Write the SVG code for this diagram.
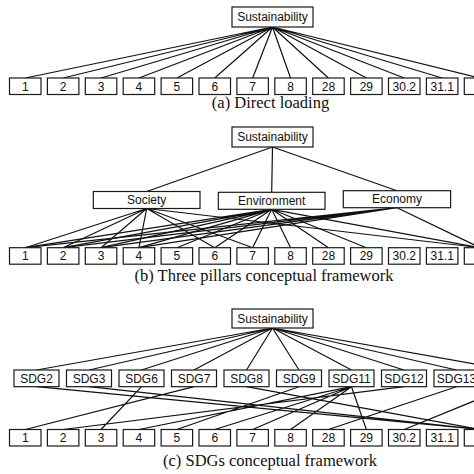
<svg xmlns="http://www.w3.org/2000/svg" width="474" height="474" viewBox="0 0 474 474">
<style>
.bx{fill:#fff;stroke:#1a1a1a;stroke-width:1.2}
.t{font-family:"Liberation Sans",Arial,sans-serif;font-size:12px;fill:#111;text-anchor:middle}
.cap{font-family:"Liberation Serif","Times New Roman",serif;font-size:16.5px;fill:#111;text-anchor:middle}
.e{stroke:#111;stroke-width:1.2;fill:none}
</style>
<rect width="474" height="474" fill="#fff"/>
<g id="connectors" class="e">
<path d="M272.5 27L25.25 78M272.5 27L63.15 78M272.5 27L101.05 78M272.5 27L138.95 78M272.5 27L176.85 78M272.5 27L214.75 78M272.5 27L252.65 78M272.5 27L290.55 78M272.5 27L328.45 78M272.5 27L366.35 78M272.5 27L404.25 78M272.5 27L442.15 78M272.5 27L480.05 78"/>
<path d="M272.5 147L146.7 191.5M272.5 147L271.7 192.3M272.5 147L397 190.7"/>
<path d="M146.7 208.5L25.25 247.7M146.7 208.5L63.15 247.7M146.7 208.5L101.05 247.7M146.7 208.5L138.95 247.7M146.7 208.5L214.75 247.7M146.7 208.5L252.65 247.7M146.7 208.5L480.05 247.7"/>
<path d="M271.7 209.3L25.25 247.7M271.7 209.3L63.15 247.7M271.7 209.3L101.05 247.7M271.7 209.3L138.95 247.7M271.7 209.3L176.85 247.7M271.7 209.3L214.75 247.7M271.7 209.3L252.65 247.7M271.7 209.3L290.55 247.7M271.7 209.3L328.45 247.7M271.7 209.3L366.35 247.7M271.7 209.3L480.05 247.7"/>
<path d="M397 207.7L25.25 247.7M397 207.7L63.15 247.7M397 207.7L101.05 247.7M397 207.7L138.95 247.7M397 207.7L480.05 247.7"/>
<path d="M272.5 328L36.5 370M272.5 328L89 370M272.5 328L141.5 370M272.5 328L194 370M272.5 328L246.5 370M272.5 328L299 370M272.5 328L351.5 370M272.5 328L404 370M272.5 328L456.5 370M272.5 328L509 370"/>
<path d="M36.5 386.7L480.05 429.5M89 386.7L480.05 429.5M141.5 386.7L101.05 429.5M194 386.7L25.25 429.5M246.5 386.7L480.05 429.5M299 386.7L176.85 429.5M351.5 386.7L138.95 429.5M351.5 386.7L214.75 429.5M351.5 386.7L252.65 429.5M351.5 386.7L290.55 429.5M351.5 386.7L366.35 429.5M404 386.7L63.15 429.5M456.5 386.7L328.45 429.5M509 386.7L404.25 429.5"/>
</g>
<g id="a-root"><rect class="bx" x="232" y="7" width="81" height="20"/><text class="t" x="272.5" y="21.3">Sustainability</text></g>
<g id="a-1"><rect class="bx" x="9.5" y="78" width="31.5" height="16.5"/><text class="t" x="25.25" y="90.5">1</text></g>
<g id="a-2"><rect class="bx" x="47.4" y="78" width="31.5" height="16.5"/><text class="t" x="63.15" y="90.5">2</text></g>
<g id="a-3"><rect class="bx" x="85.3" y="78" width="31.5" height="16.5"/><text class="t" x="101.05" y="90.5">3</text></g>
<g id="a-4"><rect class="bx" x="123.2" y="78" width="31.5" height="16.5"/><text class="t" x="138.95" y="90.5">4</text></g>
<g id="a-5"><rect class="bx" x="161.1" y="78" width="31.5" height="16.5"/><text class="t" x="176.85" y="90.5">5</text></g>
<g id="a-6"><rect class="bx" x="199" y="78" width="31.5" height="16.5"/><text class="t" x="214.75" y="90.5">6</text></g>
<g id="a-7"><rect class="bx" x="236.9" y="78" width="31.5" height="16.5"/><text class="t" x="252.65" y="90.5">7</text></g>
<g id="a-8"><rect class="bx" x="274.8" y="78" width="31.5" height="16.5"/><text class="t" x="290.55" y="90.5">8</text></g>
<g id="a-28"><rect class="bx" x="312.7" y="78" width="31.5" height="16.5"/><text class="t" x="328.45" y="90.5">28</text></g>
<g id="a-29"><rect class="bx" x="350.6" y="78" width="31.5" height="16.5"/><text class="t" x="366.35" y="90.5">29</text></g>
<g id="a-30_2"><rect class="bx" x="388.5" y="78" width="31.5" height="16.5"/><text class="t" x="404.25" y="90.5">30.2</text></g>
<g id="a-31_1"><rect class="bx" x="426.4" y="78" width="31.5" height="16.5"/><text class="t" x="442.15" y="90.5">31.1</text></g>
<g id="a-last"><rect class="bx" x="464.3" y="78" width="31.5" height="16.5"/></g>
<text class="cap" x="270.5" y="108">(a) Direct loading</text>
<g id="b-root"><rect class="bx" x="232" y="127" width="81" height="20"/><text class="t" x="272.5" y="141.3">Sustainability</text></g>
<g id="b-society"><rect class="bx" x="93.3" y="191.5" width="106.7" height="17"/><text class="t" x="146.7" y="204">Society</text></g>
<g id="b-environment"><rect class="bx" x="218.3" y="192.3" width="106.7" height="17"/><text class="t" x="271.7" y="204.8">Environment</text></g>
<g id="b-economy"><rect class="bx" x="343.3" y="190.7" width="107.3" height="17"/><text class="t" x="397" y="203.2">Economy</text></g>
<g id="b-1"><rect class="bx" x="9.5" y="247.7" width="31.5" height="16.5"/><text class="t" x="25.25" y="260.2">1</text></g>
<g id="b-2"><rect class="bx" x="47.4" y="247.7" width="31.5" height="16.5"/><text class="t" x="63.15" y="260.2">2</text></g>
<g id="b-3"><rect class="bx" x="85.3" y="247.7" width="31.5" height="16.5"/><text class="t" x="101.05" y="260.2">3</text></g>
<g id="b-4"><rect class="bx" x="123.2" y="247.7" width="31.5" height="16.5"/><text class="t" x="138.95" y="260.2">4</text></g>
<g id="b-5"><rect class="bx" x="161.1" y="247.7" width="31.5" height="16.5"/><text class="t" x="176.85" y="260.2">5</text></g>
<g id="b-6"><rect class="bx" x="199" y="247.7" width="31.5" height="16.5"/><text class="t" x="214.75" y="260.2">6</text></g>
<g id="b-7"><rect class="bx" x="236.9" y="247.7" width="31.5" height="16.5"/><text class="t" x="252.65" y="260.2">7</text></g>
<g id="b-8"><rect class="bx" x="274.8" y="247.7" width="31.5" height="16.5"/><text class="t" x="290.55" y="260.2">8</text></g>
<g id="b-28"><rect class="bx" x="312.7" y="247.7" width="31.5" height="16.5"/><text class="t" x="328.45" y="260.2">28</text></g>
<g id="b-29"><rect class="bx" x="350.6" y="247.7" width="31.5" height="16.5"/><text class="t" x="366.35" y="260.2">29</text></g>
<g id="b-30_2"><rect class="bx" x="388.5" y="247.7" width="31.5" height="16.5"/><text class="t" x="404.25" y="260.2">30.2</text></g>
<g id="b-31_1"><rect class="bx" x="426.4" y="247.7" width="31.5" height="16.5"/><text class="t" x="442.15" y="260.2">31.1</text></g>
<g id="b-last"><rect class="bx" x="464.3" y="247.7" width="31.5" height="16.5"/></g>
<text class="cap" x="264" y="280.5">(b) Three pillars conceptual framework</text>
<g id="c-root"><rect class="bx" x="232" y="309" width="81" height="19"/><text class="t" x="272.5" y="322.8">Sustainability</text></g>
<g id="c-sdg2"><rect class="bx" x="14" y="370" width="45" height="16.7"/><text class="t" x="36.5" y="382.6">SDG2</text></g>
<g id="c-sdg3"><rect class="bx" x="66.5" y="370" width="45" height="16.7"/><text class="t" x="89" y="382.6">SDG3</text></g>
<g id="c-sdg6"><rect class="bx" x="119" y="370" width="45" height="16.7"/><text class="t" x="141.5" y="382.6">SDG6</text></g>
<g id="c-sdg7"><rect class="bx" x="171.5" y="370" width="45" height="16.7"/><text class="t" x="194" y="382.6">SDG7</text></g>
<g id="c-sdg8"><rect class="bx" x="224" y="370" width="45" height="16.7"/><text class="t" x="246.5" y="382.6">SDG8</text></g>
<g id="c-sdg9"><rect class="bx" x="276.5" y="370" width="45" height="16.7"/><text class="t" x="299" y="382.6">SDG9</text></g>
<g id="c-sdg11"><rect class="bx" x="329" y="370" width="45" height="16.7"/><text class="t" x="351.5" y="382.6">SDG11</text></g>
<g id="c-sdg12"><rect class="bx" x="381.5" y="370" width="45" height="16.7"/><text class="t" x="404" y="382.6">SDG12</text></g>
<g id="c-sdg13"><rect class="bx" x="434" y="370" width="45" height="16.7"/><text class="t" x="456.5" y="382.6">SDG13</text></g>
<g id="c-1"><rect class="bx" x="9.5" y="429.5" width="31.5" height="16.5"/><text class="t" x="25.25" y="442">1</text></g>
<g id="c-2"><rect class="bx" x="47.4" y="429.5" width="31.5" height="16.5"/><text class="t" x="63.15" y="442">2</text></g>
<g id="c-3"><rect class="bx" x="85.3" y="429.5" width="31.5" height="16.5"/><text class="t" x="101.05" y="442">3</text></g>
<g id="c-4"><rect class="bx" x="123.2" y="429.5" width="31.5" height="16.5"/><text class="t" x="138.95" y="442">4</text></g>
<g id="c-5"><rect class="bx" x="161.1" y="429.5" width="31.5" height="16.5"/><text class="t" x="176.85" y="442">5</text></g>
<g id="c-6"><rect class="bx" x="199" y="429.5" width="31.5" height="16.5"/><text class="t" x="214.75" y="442">6</text></g>
<g id="c-7"><rect class="bx" x="236.9" y="429.5" width="31.5" height="16.5"/><text class="t" x="252.65" y="442">7</text></g>
<g id="c-8"><rect class="bx" x="274.8" y="429.5" width="31.5" height="16.5"/><text class="t" x="290.55" y="442">8</text></g>
<g id="c-28"><rect class="bx" x="312.7" y="429.5" width="31.5" height="16.5"/><text class="t" x="328.45" y="442">28</text></g>
<g id="c-29"><rect class="bx" x="350.6" y="429.5" width="31.5" height="16.5"/><text class="t" x="366.35" y="442">29</text></g>
<g id="c-30_2"><rect class="bx" x="388.5" y="429.5" width="31.5" height="16.5"/><text class="t" x="404.25" y="442">30.2</text></g>
<g id="c-31_1"><rect class="bx" x="426.4" y="429.5" width="31.5" height="16.5"/><text class="t" x="442.15" y="442">31.1</text></g>
<g id="c-last"><rect class="bx" x="464.3" y="429.5" width="31.5" height="16.5"/></g>
<text class="cap" x="270" y="466">(c) SDGs conceptual framework</text>
</svg>
